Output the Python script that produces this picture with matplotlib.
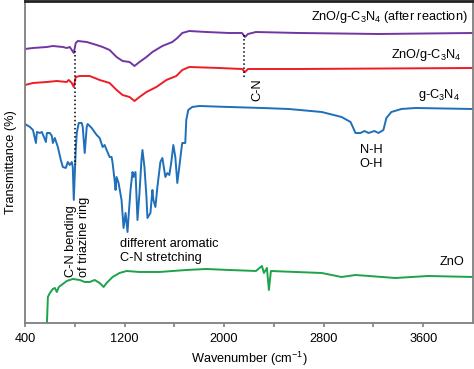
import matplotlib
matplotlib.use("Agg")
import matplotlib.pyplot as plt
import numpy as np

plt.rcParams['font.family'] = ['Liberation Sans', 'DejaVu Sans']
plt.rcParams['mathtext.fontset'] = 'custom'
plt.rcParams['mathtext.rm'] = 'Liberation Sans'
plt.rcParams['mathtext.it'] = 'Liberation Sans:italic'

# FTIR spectra, wavenumber (cm-1) and transmittance (a.u., offset stacked)
wn_after = [400, 464, 576, 624, 704, 736, 760, 776, 792, 808, 824, 896, 976, 1024, 1080,
            1136, 1184, 1240, 1280, 1320, 1376, 1424, 1504, 1584, 1624, 1664, 1720, 1856,
            2040, 2144, 2168, 2192, 2256, 2600, 3240, 4000]
t_after = [274, 275, 276, 277, 276, 275, 276, 273, 270, 280, 282, 281, 278, 276, 273,
           266, 262, 261, 257, 261, 266, 271, 277, 281, 285, 290, 292, 291,
           290, 290, 286, 289, 291, 290, 289, 290]

wn_comp = [400, 464, 576, 656, 736, 752, 776, 792, 808, 840, 920, 1000, 1080, 1136,
           1184, 1240, 1280, 1320, 1376, 1456, 1536, 1616, 1664, 1720, 1960, 2144,
           2168, 2192, 2600, 4000]
t_comp = [238, 240, 241, 242, 241, 243, 240, 236, 246, 247, 247, 243, 240, 233,
          228, 226, 222, 226, 231, 236, 243, 247, 253, 256, 255, 254,
          251, 254, 254, 255]

wn_gcn = [400, 440, 464, 488, 496, 520, 536, 552, 568, 576, 600, 616, 624, 640, 664,
          688, 704, 728, 744, 760, 776, 784, 792, 808, 816, 832, 856, 864, 880, 896,
          904, 936, 976, 1000, 1024, 1040, 1056, 1080, 1096, 1104, 1120, 1128, 1136,
          1152, 1176, 1192, 1208, 1224, 1232, 1248, 1264, 1272, 1288, 1304, 1320,
          1336, 1344, 1360, 1376, 1384, 1408, 1424, 1432, 1448, 1464, 1488, 1504,
          1528, 1544, 1560, 1576, 1592, 1608, 1624, 1640, 1656, 1664, 1688, 1696,
          1712, 1744, 1800, 2040, 2304, 2520, 2784, 2944, 3016, 3056, 3096, 3128,
          3160, 3208, 3240, 3280, 3304, 3344, 3424, 3536, 4000]
t_gcn = [199, 196, 193, 180, 191, 190, 191, 186, 181, 190, 190, 187, 180, 185, 176,
         163, 156, 155, 161, 158, 161, 156, 123, 173, 190, 200, 200, 196, 170, 196,
         199, 195, 188, 185, 176, 178, 173, 166, 166, 160, 143, 133, 146,
         140, 123, 95, 110, 91, 106, 133, 151, 146, 151, 103, 130,
         163, 173, 156, 126, 105, 110, 133, 123, 116, 136, 161, 165,
         146, 150, 148, 161, 178, 166, 140, 156, 173, 180, 180, 203,
         213, 216, 217, 216, 215, 214, 211, 206, 201, 190, 190, 192,
         190, 192, 190, 193, 205, 211, 214, 215, 214]

wn_zno = [576, 584, 600, 624, 640, 656, 672, 704, 736, 784, 840, 880, 920, 960, 1000,
          1032, 1056, 1104, 1160, 1216, 1320, 1480, 1696, 1856, 2040, 2256, 2304,
          2320, 2344, 2360, 2376, 2576, 2784, 2944, 3056, 3376, 3640, 4000]
t_zno = [-2, 26, 30, 34, 35, 31, 36, 39, 42, 44, 43, 41, 41, 43, 40,
         36, 40, 46, 50, 52, 51, 51, 53, 54, 53, 52, 57,
         50, 55, 33, 52, 51, 50, 46, 48, 45, 47, 46]

colors = {'after': '#7236a3', 'comp': '#ee1c25', 'gcn': '#1f6fba', 'zno': '#1ca34c'}

fig = plt.figure(figsize=(4.74, 3.69), dpi=100)
ax = fig.add_axes([0.0527, 0.1247, 0.9452, 0.8726])

lw = 1.4
ax.plot(wn_after, t_after, color=colors['after'], linewidth=lw)
ax.plot(wn_comp, t_comp, color=colors['comp'], linewidth=lw)
ax.plot(wn_gcn, t_gcn, color=colors['gcn'], linewidth=lw)
ax.plot(wn_zno, t_zno, color=colors['zno'], linewidth=lw)

# dotted guide lines
ax.plot([805, 805], [272, 158], color='black', linestyle=':', linewidth=1.1)
ax.plot([2160, 2160], [288, 245], color='black', linestyle=':', linewidth=1.1)

fs = 9.2
ax.text(3960, 306, 'ZnO/g-C$_3$N$_4$ (after reaction)', ha='right', va='center', fontsize=fs)
ax.text(3904, 268, 'ZnO/g-C$_3$N$_4$', ha='right', va='center', fontsize=fs)
ax.text(3896, 228, 'g-C$_3$N$_4$', ha='right', va='center', fontsize=fs)
ax.text(3928, 61, 'ZnO', ha='right', va='center', fontsize=fs)
ax.text(3184, 166, 'N-H\nO-H', ha='center', va='center', fontsize=fs, linespacing=1.2)
ax.text(2264, 233, 'C-N', ha='center', va='center', rotation=90, fontsize=fs)
ax.text(824, 46, 'C-N bending\nof triazine ring', ha='center', va='bottom',
        rotation=90, multialignment='left', fontsize=fs, linespacing=1.1)
ax.text(1160, 72, 'different aromatic\nC-N stretching', ha='left', va='center',
        fontsize=fs, linespacing=1.2)

ax.set_xlim(400, 4000)
ax.set_ylim(0, 322)
ax.set_xticks([400, 1200, 2000, 2800, 3600])
ax.set_xticks([800, 1600, 2400, 3200], minor=True)
ax.set_yticks([])
ax.tick_params(axis='x', which='both', direction='out', length=3, width=1.2,
               color='#7f7f7f', labelsize=fs, pad=4)

for side in ['left', 'right', 'bottom']:
  ax.spines[side].set_color('#7f7f7f')
  ax.spines[side].set_linewidth(1.3)
ax.spines['top'].set_color('#222222')
ax.spines['top'].set_linewidth(2)

ax.set_xlabel('Wavenumber (cm$^{-1}$)', fontsize=fs, labelpad=4)
ax.set_ylabel('Transmittance (%)', fontsize=fs, labelpad=6)

plt.savefig('out.png', dpi=100)
plt.close()
